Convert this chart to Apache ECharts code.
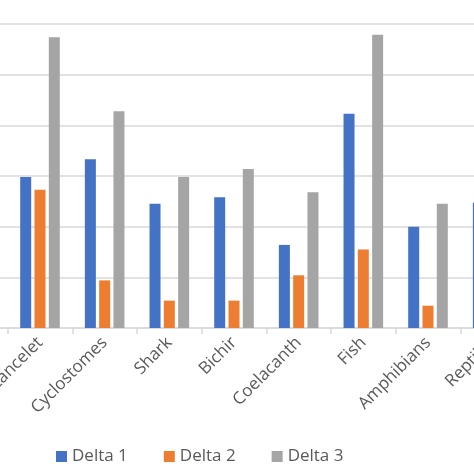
<!DOCTYPE html>
<html>
<head>
<meta charset="utf-8">
<script src="https://cdn.jsdelivr.net/npm/echarts@6/dist/echarts.min.js"></script>
<style>
html,body{margin:0;padding:0;background:#fff;overflow:hidden;width:474px;height:474px}
#chart{position:absolute;left:-57px;top:0;width:582px;height:474px}
</style>
</head>
<body>
<div id="chart"></div>
<script>
// first category is cut off at the left edge of the picture
var categories = ['', 'Lancelet', 'Cyclostomes', 'Shark', 'Bichir', 'Coelacanth', 'Fish', 'Amphibians', 'Reptiles'];
var delta1 = [null, 2.98, 3.33, 2.45, 2.58, 1.64, 4.23, 2.0, 2.47];
var delta2 = [null, 2.73, 0.94, 0.54, 0.54, 1.04, 1.55, 0.44, null];
var delta3 = [null, 5.74, 4.28, 2.98, 3.14, 2.68, 5.79, 2.45, null];

var myChart = echarts.init(document.getElementById('chart'));
var bar = function (name, data, color) {
	return {
		name: name,
		type: 'bar',
		data: data,
		barWidth: 11,
		barGap: '30%',
		itemStyle: { color: color },
		animation: false
	};
};
myChart.setOption({
	grid: { left: 0, right: 0, top: 24, bottom: 146, containLabel: false },
	legend: {
		bottom: 4,
		left: 108,
		itemWidth: 11,
		itemHeight: 11,
		itemGap: 36,
		icon: 'rect',
		textStyle: { fontSize: 17, color: '#595959', fontFamily: 'Open Sans' }
	},
	xAxis: {
		type: 'category',
		data: categories,
		axisLine: { lineStyle: { color: '#d9d9d9', width: 1.5 } },
		axisTick: { show: true, length: 6, lineStyle: { color: '#d9d9d9', width: 1.5 } },
		axisLabel: { rotate: 45, fontSize: 17, color: '#595959', margin: 12, interval: 0, fontFamily: 'Open Sans' }
	},
	yAxis: {
		type: 'value',
		min: 0,
		max: 6,
		interval: 1,
		axisLabel: { show: false },
		axisLine: { show: false },
		splitLine: { lineStyle: { color: '#d9d9d9', width: 1.5 } }
	},
	series: [
		bar('Delta 1', delta1, '#4472C4'),
		bar('Delta 2', delta2, '#ED7D31'),
		bar('Delta 3', delta3, '#A5A5A5')
	]
});
</script>
</body>
</html>
